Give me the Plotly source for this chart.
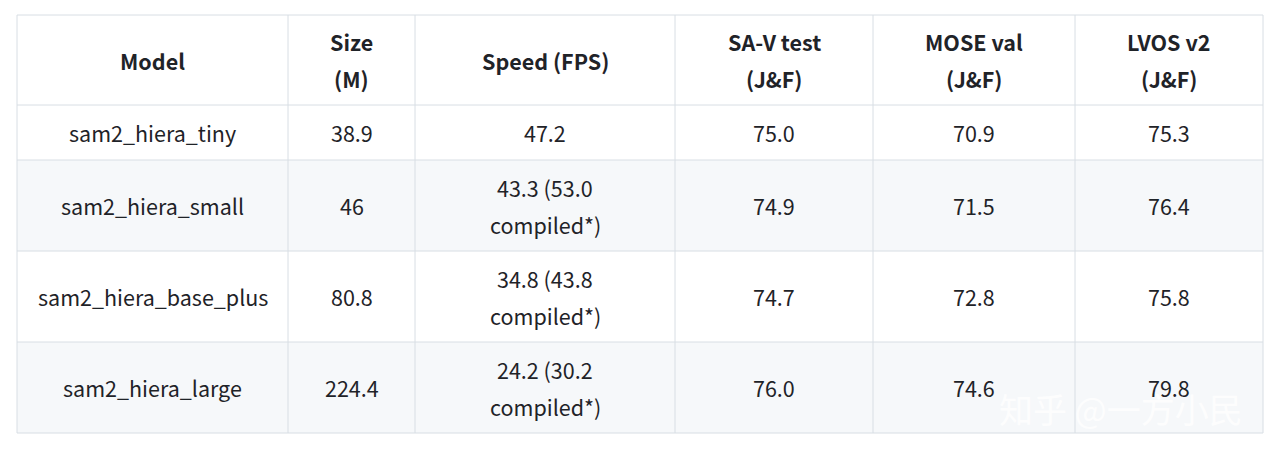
import plotly.graph_objects as go

headers = ["Model", "Size\n(M)", "Speed (FPS)", "SA-V test\n(J&F)", "MOSE val\n(J&F)", "LVOS v2\n(J&F)"]
models = ["sam2_hiera_tiny", "sam2_hiera_small", "sam2_hiera_base_plus", "sam2_hiera_large"]
sizes = ["38.9", "46", "80.8", "224.4"]
speeds = ["47.2", "43.3 (53.0\ncompiled*)", "34.8 (43.8\ncompiled*)", "24.2 (30.2\ncompiled*)"]
sav = ["75.0", "74.9", "74.7", "76.0"]
mose = ["70.9", "71.5", "72.8", "74.6"]
lvos = ["75.3", "76.4", "75.8", "79.8"]

W, H = 1277, 461
col_edges = [17, 288, 415, 675, 873, 1075, 1263]
row_edges = [15, 105, 160, 251, 342, 433]
row_fill = ["#ffffff", "#f6f8fa", "#ffffff", "#f6f8fa"]
border = "#d8dee4"
ink = "#1f2328"
font = "Noto Sans CJK SC, Open Sans, sans-serif"
line_gap = 37
shift = 8  # page body margin offset

fig = go.Figure()
shapes = []
for r, fill in enumerate(row_fill):
    shapes.append(dict(type="rect", x0=col_edges[0], x1=col_edges[-1],
                       y0=row_edges[r + 1], y1=row_edges[r + 2],
                       fillcolor=fill, line_width=0, layer="below"))
for y in row_edges:
    shapes.append(dict(type="line", x0=col_edges[0], x1=col_edges[-1], y0=y, y1=y,
                       line=dict(color=border, width=1)))
for x in col_edges:
    shapes.append(dict(type="line", x0=x, x1=x, y0=row_edges[0], y1=row_edges[-1],
                       line=dict(color=border, width=1)))


def put_text(text, c, r, bold=False):
    lines = text.split("\n")
    xc = (col_edges[c] + col_edges[c + 1]) / 2
    yc = (row_edges[r] + row_edges[r + 1]) / 2
    for i, ln in enumerate(lines):
        y = yc + (i - (len(lines) - 1) / 2) * line_gap
        fig.add_annotation(x=xc, y=y, text=f"<b>{ln}</b>" if bold else ln,
                           showarrow=False, xanchor="center", yanchor="middle",
                           font=dict(family=font, size=21.5, color=ink))


for c, h in enumerate(headers):
    put_text(h, c, 0, bold=True)
for c, col in enumerate([models, sizes, speeds, sav, mose, lvos]):
    for r, v in enumerate(col):
        put_text(v, c, r + 1)

fig.add_annotation(text="知乎 @一方小民", x=1245, y=408, showarrow=False,
                   xanchor="right", yanchor="middle",
                   font=dict(family=font, size=34, color="rgba(255,255,255,0.8)"))

fig.update_layout(width=W, height=H, margin=dict(l=0, r=0, t=0, b=0),
                  paper_bgcolor="white", plot_bgcolor="white", shapes=shapes,
                  xaxis=dict(range=[shift, W + shift], visible=False, fixedrange=True),
                  yaxis=dict(range=[H + shift, shift], visible=False, fixedrange=True),
                  showlegend=False)
fig.write_html("out.html")
